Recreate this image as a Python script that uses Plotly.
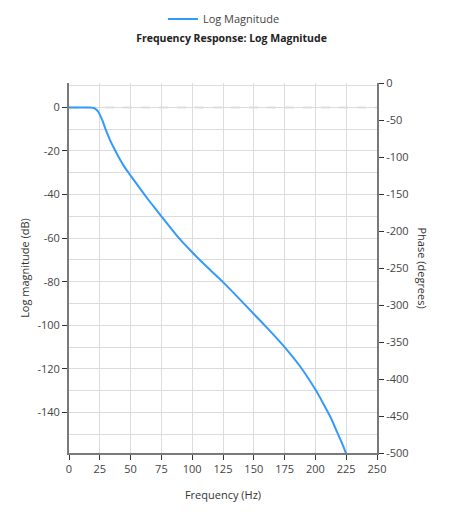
import plotly.graph_objects as go

# Frequency response
freq_hz = [0, 5, 10, 15, 18, 20, 22, 24, 25, 27.5, 29.2, 31.2, 33.3, 37.4,
           41.4, 45, 50, 57.7, 65.8, 75, 87.5, 100, 112.5, 125, 137.5,
           150, 162.5, 175, 187.5, 200, 206, 212.5, 218, 222, 225, 227]
log_mag_db = [0, 0, 0, 0, -0.1, -0.3, -0.9, -2.2, -3.3, -6.5, -9.3, -12.2,
              -15.0, -19.7, -23.9, -27.3, -31.3, -37.3, -43.4, -50.0, -58.8,
              -66.5, -73.5, -80.2, -87.4, -94.8, -102.2, -110.0, -118.8,
              -129.5, -135.5, -142.4, -149.5, -154.6, -159.0, -162.2]

x_ticks = [0, 25, 50, 75, 100, 125, 150, 175, 200, 225, 250]
mag_ticks = [0, -20, -40, -60, -80, -100, -120, -140]
phase_ticks = [0, -50, -100, -150, -200, -250, -300, -350, -400, -450, -500]
mag_range = [-158.6, 11.2]
phase_range = [-500, 0]

blue = "#3399ff"
axis_grey = "#7a7a7a"
grid_grey = "#dcdcdc"
text_grey = "#444444"
font_family = "Open Sans, Noto Sans, sans-serif"

fig = go.Figure()
fig.add_trace(go.Scatter(
    x=freq_hz, y=log_mag_db, mode="lines", name="Log Magnitude",
    line=dict(color=blue, width=2, shape="spline", smoothing=0.5),
))
# empty trace so the phase axis is drawn
fig.add_trace(go.Scatter(x=[], y=[], yaxis="y2", showlegend=False,
                         hoverinfo="skip"))
fig.add_hline(y=0, line=dict(color="#c0c0c0", width=1.5, dash="dash"), layer="below")

tick_style = dict(showline=True, linecolor=axis_grey, linewidth=2,
                  ticks="outside", ticklen=5, tickcolor="#333333",
                  zeroline=False, automargin=False)

# page body adds an 8px margin, so the figure is sized to fit inside it
fig.update_layout(
    width=434, height=496,
    margin=dict(l=61, r=65, t=75, b=51),
    paper_bgcolor="white", plot_bgcolor="white",
    font=dict(family=font_family, size=11, color=text_grey),
    title=dict(text="<b>Frequency Response: Log Magnitude</b>",
               x=0.515, xanchor="center", y=1 - 30 / 496, yanchor="middle",
               yref="container", font=dict(size=10.5, color="#222222")),
    legend=dict(orientation="h", x=0.503, xanchor="center",
                y=1 - 11 / 496, yanchor="middle", yref="container",
                font=dict(size=11, color=text_grey)),
    showlegend=True,
    xaxis=dict(
        range=[0, 250], tickvals=x_ticks, showgrid=True, gridcolor=grid_grey,
        title=dict(text="Frequency (Hz)", standoff=16,
                   font=dict(size=11, color="#333333")),
        **tick_style,
    ),
    yaxis=dict(
        range=mag_range, tickvals=mag_ticks,
        ticktext=[str(v) for v in mag_ticks],
        showgrid=True, gridcolor=grid_grey,
        minor=dict(dtick=10, tick0=0, showgrid=True, gridcolor=grid_grey),
        title=dict(text="Log magnitude (dB)", standoff=6,
                   font=dict(size=11, color="#333333")),
        **tick_style,
    ),
    yaxis2=dict(
        range=phase_range, tickvals=phase_ticks,
        ticktext=[str(v) for v in phase_ticks],
        overlaying="y", side="right", showgrid=False,
        **tick_style,
    ),
)
fig.add_annotation(
    text="Phase (degrees)", textangle=90, xref="paper", yref="paper",
    x=1, xshift=55, y=0.5, showarrow=False,
    font=dict(size=11, color="#333333"),
)

fig.write_html("out.html")
